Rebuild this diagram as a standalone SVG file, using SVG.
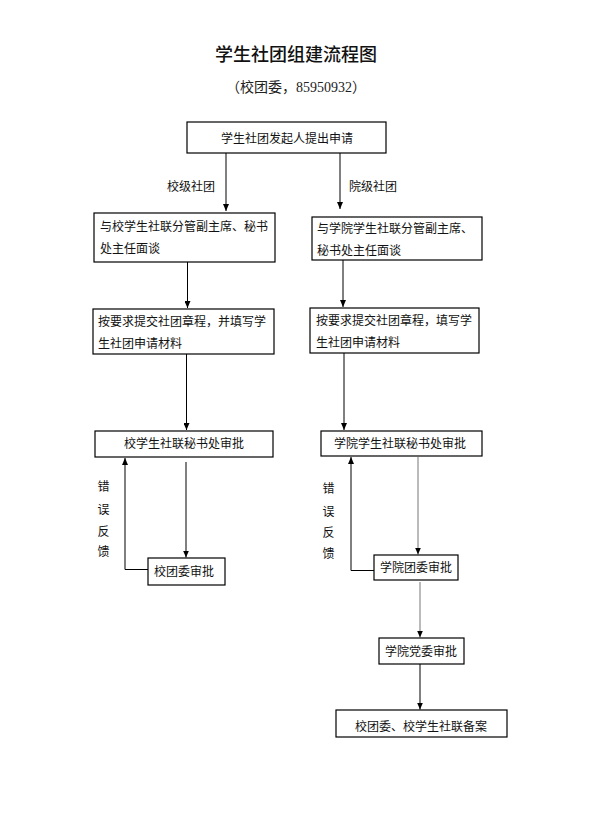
<svg xmlns="http://www.w3.org/2000/svg" width="590" height="831" viewBox="0 0 590 831">
<defs>
<marker id="ah" viewBox="0 0 7 6" refX="7" refY="3" markerWidth="7" markerHeight="6" markerUnits="userSpaceOnUse" orient="auto">
<path d="M0,0 L7,3 L0,6 Z" fill="#000"/>
</marker>
</defs>
<style>
.box{fill:#fff;stroke:#000;stroke-width:1.2}
.t{font-family:"Noto Sans CJK SC","Liberation Sans",sans-serif;font-size:12px;fill:#111}
.c{text-anchor:middle}
.ln{fill:none;stroke:#000;stroke-width:1}
.lg{fill:none;stroke:#777;stroke-width:1}
</style>
<rect width="590" height="831" fill="#fff"/>
<g id="title">
<text x="296" y="60.5" class="c" style="font-family:'Noto Sans CJK SC',sans-serif;font-size:18px;font-weight:500;fill:#111">学生社团组建流程图</text>
<text x="296" y="91.5" class="c" style="font-family:'Liberation Serif','Noto Sans CJK SC',serif;font-size:14px;fill:#222">（校团委，85950932）</text>
</g>
<g id="connectors">
<line class="ln" x1="226" y1="153" x2="226" y2="211" marker-end="url(#ah)"/>
<line class="ln" x1="340" y1="153" x2="340" y2="209" marker-end="url(#ah)"/>
<line class="ln" x1="187.5" y1="262" x2="187.5" y2="308" marker-end="url(#ah)"/>
<line class="ln" x1="343" y1="260" x2="343" y2="307" marker-end="url(#ah)"/>
<line class="ln" x1="186.5" y1="354" x2="186.5" y2="430" marker-end="url(#ah)"/>
<line class="ln" x1="344" y1="353" x2="344" y2="430" marker-end="url(#ah)"/>
<line class="ln" x1="186" y1="462" x2="186" y2="557.5" marker-end="url(#ah)"/>
<polyline class="ln" points="148,569.5 125,569.5 125,458" marker-end="url(#ah)"/>
<line class="lg" x1="418" y1="457" x2="418" y2="554.5" marker-end="url(#ah)"/>
<polyline class="ln" points="374,570.5 351,570.5 351,457" marker-end="url(#ah)"/>
<line class="lg" x1="420" y1="582" x2="420" y2="637.5" marker-end="url(#ah)"/>
<line class="ln" x1="420" y1="664" x2="420" y2="709.5" marker-end="url(#ah)"/>
<text class="t" x="167" y="190.5">校级社团</text>
<text class="t" x="349" y="190.5">院级社团</text>
<text class="t c" x="103.5" y="491">错</text>
<text class="t c" x="103.5" y="513.5">误</text>
<text class="t c" x="103.5" y="536">反</text>
<text class="t c" x="103.5" y="556">馈</text>
<text class="t c" x="328.5" y="493">错</text>
<text class="t c" x="328.5" y="515.5">误</text>
<text class="t c" x="328.5" y="537">反</text>
<text class="t c" x="328.5" y="557.5">馈</text>
</g>
<g id="n-start">
<rect class="box" x="187" y="122" width="199" height="31"/>
<text class="t c" x="287" y="142.5">学生社团发起人提出申请</text>
</g>
<g id="n-l1">
<rect class="box" x="94" y="213" width="181" height="49"/>
<text class="t" x="100" y="231">与校学生社联分管副主席、秘书</text>
<text class="t" x="100" y="252.5">处主任面谈</text>
</g>
<g id="n-r1">
<rect class="box" x="312" y="217" width="170" height="43"/>
<text class="t" x="317" y="232.5">与学院学生社联分管副主席、</text>
<text class="t" x="317" y="254.5">秘书处主任面谈</text>
</g>
<g id="n-l2">
<rect class="box" x="93" y="309" width="181" height="45"/>
<text class="t" x="98" y="326">按要求提交社团章程，并填写学</text>
<text class="t" x="98" y="348">生社团申请材料</text>
</g>
<g id="n-r2">
<rect class="box" x="310" y="308" width="169" height="45"/>
<text class="t" x="316" y="325">按要求提交社团章程，填写学</text>
<text class="t" x="316" y="347">生社团申请材料</text>
</g>
<g id="n-l3">
<rect class="box" x="95" y="431" width="178" height="26"/>
<text class="t c" x="184" y="448">校学生社联秘书处审批</text>
</g>
<g id="n-r3">
<rect class="box" x="321" y="431" width="161" height="25"/>
<text class="t c" x="400" y="447.5">学院学生社联秘书处审批</text>
</g>
<g id="n-l4">
<rect class="box" x="148" y="558" width="77" height="27"/>
<text class="t" x="154" y="576">校团委审批</text>
</g>
<g id="n-r4">
<rect class="box" x="374" y="555" width="84" height="25"/>
<text class="t" x="380" y="572">学院团委审批</text>
</g>
<g id="n-r5">
<rect class="box" x="379" y="638" width="85" height="26"/>
<text class="t c" x="421" y="656">学院党委审批</text>
</g>
<g id="n-end">
<rect class="box" x="336" y="710" width="171" height="27"/>
<text class="t c" x="421" y="730.5">校团委、校学生社联备案</text>
</g>
</svg>
